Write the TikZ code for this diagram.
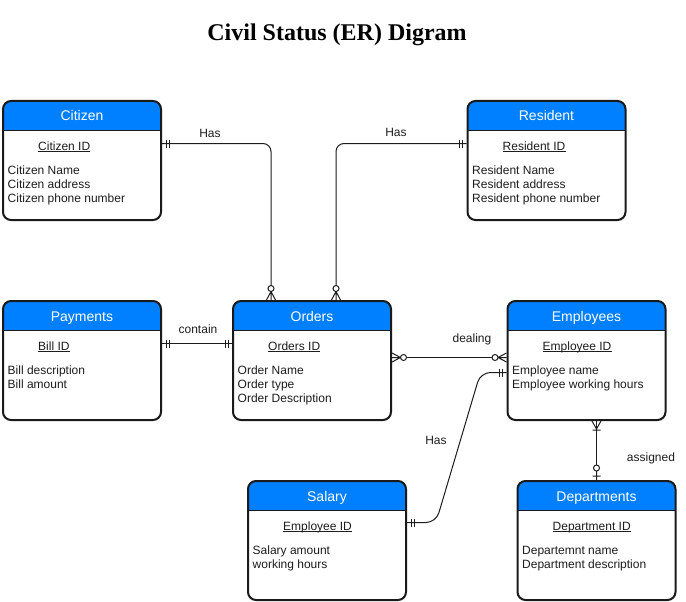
\documentclass[tikz,border=0pt]{standalone}
\usepackage{fontspec}
\setmainfont{Liberation Sans}
\newfontfamily\titlefont{Liberation Serif}
\usetikzlibrary{positioning,calc}
\definecolor{head}{HTML}{007FFF}
\definecolor{edge}{HTML}{1A1A1A}
\definecolor{ink}{HTML}{1D1D1D}

% crow's foot tips
\pgfdeclarearrow{
  name = ErOne,
  setup code = {\pgfarrowssettipend{0pt}\pgfarrowssetlineend{0pt}\pgfarrowssetbackend{-8pt}},
  drawing code = {
    \pgfpathmoveto{\pgfqpoint{-4pt}{-4pt}}\pgfpathlineto{\pgfqpoint{-4pt}{4pt}}
    \pgfpathmoveto{\pgfqpoint{-7pt}{-4pt}}\pgfpathlineto{\pgfqpoint{-7pt}{4pt}}
    \pgfusepathqstroke}
}
\pgfdeclarearrow{
  name = ErZeroMany,
  setup code = {\pgfarrowssettipend{0pt}\pgfarrowssetlineend{-14.5pt}\pgfarrowssetbackend{-14.5pt}},
  drawing code = {
    \pgfpathcircle{\pgfqpoint{-11.5pt}{0pt}}{3pt}
    \pgfpathmoveto{\pgfqpoint{-8.5pt}{0pt}}\pgfpathlineto{\pgfqpoint{0pt}{0pt}}
    \pgfpathmoveto{\pgfqpoint{-8.5pt}{0pt}}\pgfpathlineto{\pgfqpoint{0pt}{4.5pt}}
    \pgfpathmoveto{\pgfqpoint{-8.5pt}{0pt}}\pgfpathlineto{\pgfqpoint{0pt}{-4.5pt}}
    \pgfusepathqstroke}
}
\pgfdeclarearrow{
  name = ErOneMany,
  setup code = {\pgfarrowssettipend{0pt}\pgfarrowssetlineend{0pt}\pgfarrowssetbackend{-10pt}},
  drawing code = {
    \pgfpathmoveto{\pgfqpoint{-8pt}{0pt}}\pgfpathlineto{\pgfqpoint{0pt}{4.5pt}}
    \pgfpathmoveto{\pgfqpoint{-8pt}{0pt}}\pgfpathlineto{\pgfqpoint{0pt}{-4.5pt}}
    \pgfpathmoveto{\pgfqpoint{-9pt}{-4pt}}\pgfpathlineto{\pgfqpoint{-9pt}{4pt}}
    \pgfusepathqstroke}
}
\pgfdeclarearrow{
  name = ErZeroOne,
  setup code = {\pgfarrowssettipend{0pt}\pgfarrowssetlineend{-15pt}\pgfarrowssetbackend{-15pt}},
  drawing code = {
    \pgfpathcircle{\pgfqpoint{-12pt}{0pt}}{3pt}
    \pgfpathmoveto{\pgfqpoint{-9pt}{0pt}}\pgfpathlineto{\pgfqpoint{0pt}{0pt}}
    \pgfpathmoveto{\pgfqpoint{-4pt}{-4pt}}\pgfpathlineto{\pgfqpoint{-4pt}{4pt}}
    \pgfusepathqstroke}
}

\tikzset{
  entity/.style={draw=edge, fill=white, line width=2pt, rounded corners=8pt,
                 minimum width=158pt, minimum height=119pt, inner sep=0pt,
                 path picture={
                   \fill[head, sharp corners] (path picture bounding box.north west) rectangle
                     ([yshift=-29pt]path picture bounding box.north east);
                   \draw[edge, line width=1pt, sharp corners] ([yshift=-29pt]path picture bounding box.north west) --
                     ([yshift=-29pt]path picture bounding box.north east);}},
  htext/.style={font=\fontsize{14}{16}\selectfont, text=white, inner sep=0pt},
  keytext/.style={font=\fontsize{12}{14}\selectfont, text=ink, inner sep=0pt},
  keyline/.style={draw=ink, line width=0.7pt},
  attrtext/.style={font=\fontsize{12}{14}\selectfont, text=ink, inner sep=0pt},
  lbl/.style={font=\fontsize{12}{14}\selectfont, text=ink, inner sep=0pt},
  titletext/.style={font=\titlefont\bfseries\fontsize{24}{28}\selectfont, inner sep=0pt},
  rel/.style={draw=ink, line width=1pt},
  one one/.style={arrows={ErOne}-{ErOne}},
  one zmany/.style={arrows={ErOne}-{ErZeroMany}},
  zmany zmany/.style={arrows={ErZeroMany}-{ErZeroMany}},
  omany zone/.style={arrows={ErOneMany}-{ErZeroOne}}
}

\begin{document}
\begin{tikzpicture}[x=1pt,y=-1pt]
  \useasboundingbox (0,0) rectangle (686,602);
  \node[titletext, anchor=base] (title) at (337,41) {Civil Status (ER) Digram};

  % entities
  \node[entity] (cit) at (82,160.5) {};
  \node[entity] (res) at (546.5,160.5) {};
  \node[entity] (pay) at (82,360.5) {};
  \node[entity] (ord) at (312,360.5) {};
  \node[entity] (emp) at (586.5,360.5) {};
  \node[entity] (sal) at (327,540.5) {};
  \node[entity] (dep) at (596.5,540.5) {};

  % titles and keys
  \foreach \e/\ttl/\key in {cit/Citizen/Citizen ID, res/Resident/Resident ID, pay/Payments/Bill ID,
      ord/Orders/Orders ID, emp/Employees/Employee ID, sal/Salary/Employee ID,
      dep/Departments/Department ID} {
    \node[htext, anchor=base] (\e-t) at ($(\e.north)+(0,21)$) {\ttl};
    \node[keytext, anchor=base west] (\e-k) at ($(\e.north west)+(36,50)$) {\key};
    \draw[keyline] ([yshift=-1.8pt]\e-k.base west) -- ([yshift=-1.8pt]\e-k.base east);
  }

  % attributes
  \foreach \e/\list in {cit/{Citizen Name,Citizen address,Citizen phone number},
      res/{Resident Name,Resident address,Resident phone number},
      pay/{Bill description,Bill amount},
      ord/{Order Name,Order type,Order Description},
      emp/{Employee name,Employee working hours},
      sal/{Salary amount,working hours},
      dep/{Departemnt name,Department description}}
    \foreach \a [count=\i] in \list
      \node[attrtext, anchor=base west] (\e-a\i) at ($(\e.north west)+(5.5,60+14*\i)$) {\a};

  % relationships
  \draw[rel, one zmany, rounded corners=8pt] ($(cit.north east)+(0,43.5)$) -| ($(ord.north)+(-41,0)$);
  \draw[rel, one zmany, rounded corners=8pt] ($(res.north west)+(0,43.5)$) -| ($(ord.north)+(24,0)$);
  \draw[rel, one one] ($(pay.north east)+(0,43.5)$) -- ($(ord.north west)+(0,43.5)$);
  \draw[rel, zmany zmany] ($(ord.east)+(0,-3)$) -- ($(emp.west)+(0,-3)$);
  \draw[rel, one one, rounded corners=10pt] ($(emp.west)+(0,12)$) -- ++(-26,0)
    -- ($(sal.north east)+(29,42.5)$) -- ($(sal.north east)+(0,42.5)$);
  \draw[rel, omany zone] (dep.north |- emp.south) -- (dep.north);

  % labels
  \node[lbl] (has1) at (210,133) {Has};
  \node[lbl] (has2) at (396,132) {Has};
  \node[lbl] (contain) at (198,329) {contain};
  \node[lbl] (dealing) at (472,339) {dealing};
  \node[lbl] (has3) at (436,440) {Has};
  \node[lbl] (assigned) at (651,458) {assigned};
\end{tikzpicture}
\end{document}
